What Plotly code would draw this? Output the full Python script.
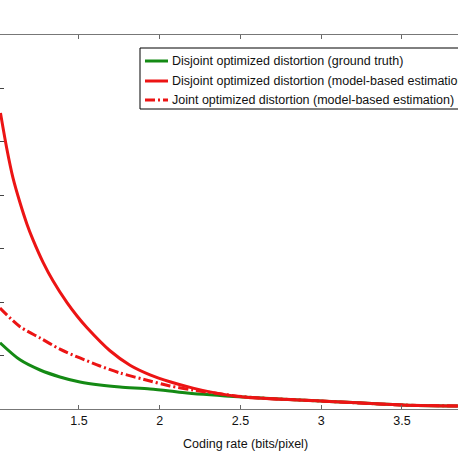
import plotly.graph_objects as go

# Coding rate (bits/pixel) vs distortion
x_red = [1.014, 1.052, 1.091, 1.135, 1.178, 1.215, 1.277, 1.339, 1.426, 1.488, 1.550,
         1.692, 1.816, 1.940, 2.063, 2.206, 2.311, 2.515, 2.998, 3.500, 3.847]
y_red = [55.4, 48.9, 43.3, 38.6, 34.6, 31.7, 27.5, 24.0, 19.9, 17.4, 15.2,
         10.9, 8.2, 6.4, 5.1, 3.9, 3.2, 2.25, 1.5, 0.75, 0.56]

x_joint = [1.011, 1.135, 1.259, 1.382, 1.506, 1.630, 1.754, 1.940, 2.063, 2.206, 2.515, 2.998, 3.500, 3.847]
y_joint = [18.9, 15.4, 13.3, 11.2, 9.55, 8.05, 6.74, 5.24, 4.31, 3.56, 2.3, 1.5, 0.75, 0.56]

x_green = [1.011, 1.135, 1.259, 1.382, 1.506, 1.630, 1.754, 1.940, 2.063, 2.169, 2.515, 2.998, 3.500, 3.847]
y_green = [12.4, 9.2, 7.3, 6.0, 5.06, 4.49, 4.12, 3.75, 3.37, 3.0, 2.25, 1.5, 0.75, 0.56]

x_tickvals = [1.5, 2, 2.5, 3, 3.5]
x_ticktext = ["1.5", "2", "2.5", "3", "3.5"]
x_title = "Coding rate (bits/pixel)"

names = [
    "Disjoint optimized distortion (ground truth)",
    "Disjoint optimized distortion (model-based estimation)",
    "Joint optimized distortion (model-based estimation)",
]

GREEN = "#148a14"
RED = "#ec1414"
DASHDOT = "10px,3px,2px,3px"
FONT = "Liberation Sans, Arial, sans-serif"

styles = [dict(color=GREEN, width=3),
          dict(color=RED, width=3),
          dict(color=RED, width=3, dash=DASHDOT)]

fig = go.Figure()
for xs, ys, nm, st in [(x_green, y_green, names[0], styles[0]),
                       (x_red, y_red, names[1], styles[1]),
                       (x_joint, y_joint, names[2], styles[2])]:
    fig.add_trace(go.Scatter(x=xs, y=ys, mode="lines", name=nm, showlegend=False,
                             line=dict(shape="spline", smoothing=0.8, **st)))

# Manual legend box (pixel-based layout converted to paper coords)
W, TOP, BOT = 458.0, 35.0, 409.0
def px(v):
    return v / W
def py(v):
    return (BOT - v) / (BOT - TOP)

shapes = [dict(type="rect", xref="paper", yref="paper", x0=px(140), x1=px(480),
               y0=py(109), y1=py(48), line=dict(color="black", width=1), fillcolor="white",
               layer="above")]
annotations = []
rows = [61, 81, 100]
for i, (nm, st) in enumerate(zip(names, styles)):
    shapes.append(dict(type="line", xref="paper", yref="paper", x0=px(145), x1=px(168),
                       y0=py(rows[i]), y1=py(rows[i]), layer="above",
                       line=dict(color=st["color"], width=3, dash=st.get("dash", "solid"))))
    annotations.append(dict(text=nm, xref="paper", yref="paper", x=px(170), y=py(rows[i]),
                            xanchor="left", yanchor="middle", showarrow=False,
                            font=dict(family=FONT, size=12.5, color="#111")))

# x-axis title (the original axes extend past the right edge, so centre is shifted)
annotations.append(dict(text=x_title, xref="paper", yref="paper", x=px(245), y=py(444),
                        xanchor="center", yanchor="middle", showarrow=False,
                        font=dict(family=FONT, size=12.5, color="#111")))

fig.update_layout(
    width=458, height=458,
    margin=dict(l=0, r=0, t=35, b=49, autoexpand=False),
    paper_bgcolor="white", plot_bgcolor="white",
    font=dict(family=FONT, size=12, color="#111"),
    showlegend=False,
    shapes=shapes, annotations=annotations,
    xaxis=dict(range=[1.011, 3.847], tickvals=x_tickvals, ticktext=x_ticktext,
               ticks="inside", ticklen=4, tickcolor="#666", showline=True, linecolor="#777",
               linewidth=1, mirror="ticks", showgrid=False, zeroline=False,
               tickfont=dict(family=FONT, size=12.5, color="#111")),
    yaxis=dict(range=[0, 70], dtick=10, ticks="inside", ticklen=4, tickcolor="#444",
               showline=False, showgrid=False, zeroline=False, showticklabels=False),
)

fig.write_html("out.html")
